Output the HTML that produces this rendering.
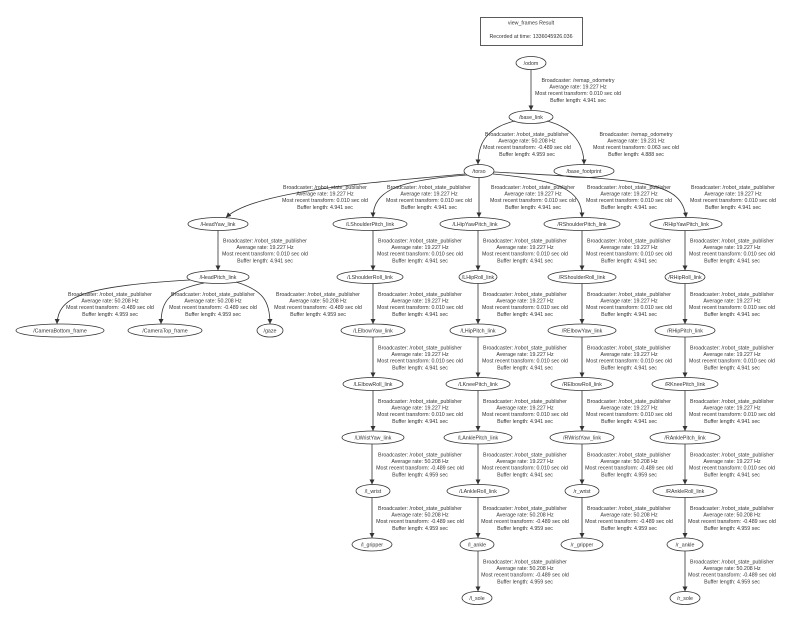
<!DOCTYPE html>
<html><head><meta charset="utf-8"><style>
html,body{margin:0;padding:0;background:#fff;width:800px;height:620px;overflow:hidden}
svg text{font-family:"Liberation Sans",sans-serif;font-size:5.3px;fill:#333;text-anchor:middle}
ellipse{fill:none;stroke:#333;stroke-width:0.8}
path.e{fill:none;stroke:#333;stroke-width:0.8;marker-end:url(#a)}
</style></head><body>
<svg width="800" height="620" viewBox="0 0 800 620" xmlns="http://www.w3.org/2000/svg">
<defs><marker id="a" markerWidth="6" markerHeight="5" refX="5" refY="2.5" orient="auto" markerUnits="userSpaceOnUse"><path d="M0,0 L5,2.5 L0,5 z" fill="#333"/></marker></defs>
<rect x="480.5" y="17.5" width="102" height="28" fill="none" stroke="#333" stroke-width="0.8"/>
<text x="531" y="24.5">view_frames Result</text>
<text x="531" y="38">Recorded at time: 1336045926.036</text>

<!-- nodes -->
<ellipse cx="531" cy="63" rx="15" ry="6.5"/><text x="531" y="65">/odom</text>
<ellipse cx="531" cy="117" rx="22" ry="6.5"/><text x="531" y="119">/base_link</text>
<ellipse cx="479" cy="171" rx="15" ry="6.5"/><text x="479" y="173">/torso</text>
<ellipse cx="584" cy="171" rx="30" ry="6.5"/><text x="584" y="173">/base_footprint</text>

<ellipse cx="218" cy="224" rx="30" ry="6.5"/><text x="218" y="226">/HeadYaw_link</text>
<ellipse cx="370" cy="224" rx="37" ry="6.5"/><text x="370" y="226">/LShoulderPitch_link</text>
<ellipse cx="475" cy="224" rx="35" ry="6.5"/><text x="475" y="226">/LHipYawPitch_link</text>
<ellipse cx="582" cy="224" rx="38" ry="6.5"/><text x="582" y="226">/RShoulderPitch_link</text>
<ellipse cx="686" cy="224" rx="36" ry="6.5"/><text x="686" y="226">/RHipYawPitch_link</text>

<ellipse cx="218" cy="277" rx="31" ry="6.5"/><text x="218" y="279">/HeadPitch_link</text>
<ellipse cx="370" cy="277" rx="33" ry="6.5"/><text x="370" y="279">/LShoulderRoll_link</text>
<ellipse cx="478" cy="277" rx="19" ry="6.5"/><text x="478" y="279">/LHipRoll_link</text>
<ellipse cx="582" cy="277" rx="34" ry="6.5"/><text x="582" y="279">/RShoulderRoll_link</text>
<ellipse cx="685" cy="277" rx="20" ry="6.5"/><text x="685" y="279">/RHipRoll_link</text>

<ellipse cx="60" cy="330.5" rx="44" ry="6.5"/><text x="60" y="332.5">/CameraBottom_frame</text>
<ellipse cx="165" cy="330.5" rx="37" ry="6.5"/><text x="165" y="332.5">/CameraTop_frame</text>
<ellipse cx="270" cy="330.5" rx="13" ry="6.5"/><text x="270" y="332.5">/gaze</text>
<ellipse cx="373" cy="330.5" rx="32" ry="6.5"/><text x="373" y="332.5">/LElbowYaw_link</text>
<ellipse cx="478" cy="330.5" rx="28" ry="6.5"/><text x="478" y="332.5">/LHipPitch_link</text>
<ellipse cx="582" cy="330.5" rx="34" ry="6.5"/><text x="582" y="332.5">/RElbowYaw_link</text>
<ellipse cx="685" cy="330.5" rx="30" ry="6.5"/><text x="685" y="332.5">/RHipPitch_link</text>

<ellipse cx="373" cy="384" rx="30" ry="6.5"/><text x="373" y="386">/LElbowRoll_link</text>
<ellipse cx="478" cy="384" rx="32" ry="6.5"/><text x="478" y="386">/LKneePitch_link</text>
<ellipse cx="582" cy="384" rx="31" ry="6.5"/><text x="582" y="386">/RElbowRoll_link</text>
<ellipse cx="685" cy="384" rx="33" ry="6.5"/><text x="685" y="386">/RKneePitch_link</text>

<ellipse cx="373" cy="437.5" rx="31" ry="6.5"/><text x="373" y="439.5">/LWristYaw_link</text>
<ellipse cx="478" cy="437.5" rx="34" ry="6.5"/><text x="478" y="439.5">/LAnklePitch_link</text>
<ellipse cx="582" cy="437.5" rx="32" ry="6.5"/><text x="582" y="439.5">/RWristYaw_link</text>
<ellipse cx="685" cy="437.5" rx="35" ry="6.5"/><text x="685" y="439.5">/RAnklePitch_link</text>

<ellipse cx="373" cy="491" rx="17" ry="6.5"/><text x="373" y="493">/l_wrist</text>
<ellipse cx="478" cy="491" rx="31" ry="6.5"/><text x="478" y="493">/LAnkleRoll_link</text>
<ellipse cx="582" cy="491" rx="17" ry="6.5"/><text x="582" y="493">/r_wrist</text>
<ellipse cx="685" cy="491" rx="32" ry="6.5"/><text x="685" y="493">/RAnkleRoll_link</text>

<ellipse cx="372" cy="544.5" rx="20" ry="6.5"/><text x="372" y="546.5">/l_gripper</text>
<ellipse cx="477" cy="544.5" rx="17" ry="6.5"/><text x="477" y="546.5">/l_ankle</text>
<ellipse cx="582" cy="544.5" rx="21" ry="6.5"/><text x="582" y="546.5">/r_gripper</text>
<ellipse cx="685" cy="544.5" rx="18" ry="6.5"/><text x="685" y="546.5">/r_ankle</text>

<ellipse cx="477" cy="598" rx="15" ry="6.5"/><text x="477" y="600">/l_sole</text>
<ellipse cx="685" cy="598" rx="15" ry="6.5"/><text x="685" y="600">/r_sole</text>

<!-- edges -->
<path class="e" d="M531,69.5 L531,110.5"/>
<path class="e" d="M515,121 C485,128 478,145 478,164.5"/>
<path class="e" d="M547,121 C574,128 584,145 584,164.5"/>
<path class="e" d="M465,174 C380,182 255,190 226,217.5"/>
<path class="e" d="M467,175 C400,180 373,190 373,217.5"/>
<path class="e" d="M479,177.5 L479,217.5"/>
<path class="e" d="M493,174 C560,180 582,190 582,217.5"/>
<path class="e" d="M494,172 C640,180 682,180 686,217.5"/>
<path class="e" d="M218,230.5 L218,270.5"/>
<path class="e" d="M373,230.5 L373,270.5"/>
<path class="e" d="M478,230.5 L478,270.5"/>
<path class="e" d="M582,230.5 L582,270.5"/>
<path class="e" d="M685,230.5 L685,270.5"/>
<path class="e" d="M190,280 C80,286 58,298 57,324"/>
<path class="e" d="M204,283 C170,290 161,300 161,324"/>
<path class="e" d="M236,282 C262,290 270,300 270,324"/>
<path class="e" d="M373,283.5 L373,324"/>
<path class="e" d="M478,283.5 L478,324"/>
<path class="e" d="M582,283.5 L582,324"/>
<path class="e" d="M685,283.5 L685,324"/>
<path class="e" d="M373,337 L373,377.5"/>
<path class="e" d="M478,337 L478,377.5"/>
<path class="e" d="M582,337 L582,377.5"/>
<path class="e" d="M685,337 L685,377.5"/>
<path class="e" d="M373,390.5 L373,431"/>
<path class="e" d="M478,390.5 L478,431"/>
<path class="e" d="M582,390.5 L582,431"/>
<path class="e" d="M685,390.5 L685,431"/>
<path class="e" d="M372,444 L372,484.5"/>
<path class="e" d="M478,444 L478,484.5"/>
<path class="e" d="M582,444 L582,484.5"/>
<path class="e" d="M685,444 L685,484.5"/>
<path class="e" d="M372,497.5 L372,538"/>
<path class="e" d="M478,497.5 L478,538"/>
<path class="e" d="M582,497.5 L582,538"/>
<path class="e" d="M685,497.5 L685,538"/>
<path class="e" d="M478,551 L478,591.5"/>
<path class="e" d="M685,551 L685,591.5"/>

<!-- labels -->
<text x="578" y="82"><tspan x="578">Broadcaster: /remap_odometry</tspan><tspan x="578" dy="6.6">Average rate: 19.227 Hz</tspan><tspan x="578" dy="6.6">Most recent transform: 0.010 sec old</tspan><tspan x="578" dy="6.6">Buffer length: 4.941 sec</tspan></text>
<text x="527" y="136"><tspan x="527">Broadcaster: /robot_state_publisher</tspan><tspan x="527" dy="6.6">Average rate: 50.208 Hz</tspan><tspan x="527" dy="6.6">Most recent transform: -0.489 sec old</tspan><tspan x="527" dy="6.6">Buffer length: 4.959 sec</tspan></text>
<text x="636" y="136"><tspan x="636">Broadcaster: /remap_odometry</tspan><tspan x="636" dy="6.6">Average rate: 19.231 Hz</tspan><tspan x="636" dy="6.6">Most recent transform: 0.063 sec old</tspan><tspan x="636" dy="6.6">Buffer length: 4.888 sec</tspan></text>

<text y="189"><tspan x="325">Broadcaster: /robot_state_publisher</tspan><tspan x="325" dy="6.6">Average rate: 19.227 Hz</tspan><tspan x="325" dy="6.6">Most recent transform: 0.010 sec old</tspan><tspan x="325" dy="6.6">Buffer length: 4.941 sec</tspan></text>
<text y="189"><tspan x="429">Broadcaster: /robot_state_publisher</tspan><tspan x="429" dy="6.6">Average rate: 19.227 Hz</tspan><tspan x="429" dy="6.6">Most recent transform: 0.010 sec old</tspan><tspan x="429" dy="6.6">Buffer length: 4.941 sec</tspan></text>
<text y="189"><tspan x="533">Broadcaster: /robot_state_publisher</tspan><tspan x="533" dy="6.6">Average rate: 19.227 Hz</tspan><tspan x="533" dy="6.6">Most recent transform: 0.010 sec old</tspan><tspan x="533" dy="6.6">Buffer length: 4.941 sec</tspan></text>
<text y="189"><tspan x="629">Broadcaster: /robot_state_publisher</tspan><tspan x="629" dy="6.6">Average rate: 19.227 Hz</tspan><tspan x="629" dy="6.6">Most recent transform: 0.010 sec old</tspan><tspan x="629" dy="6.6">Buffer length: 4.941 sec</tspan></text>
<text y="189"><tspan x="733">Broadcaster: /robot_state_publisher</tspan><tspan x="733" dy="6.6">Average rate: 19.227 Hz</tspan><tspan x="733" dy="6.6">Most recent transform: 0.010 sec old</tspan><tspan x="733" dy="6.6">Buffer length: 4.941 sec</tspan></text>

<text y="242.5"><tspan x="265">Broadcaster: /robot_state_publisher</tspan><tspan x="265" dy="6.6">Average rate: 19.227 Hz</tspan><tspan x="265" dy="6.6">Most recent transform: 0.010 sec old</tspan><tspan x="265" dy="6.6">Buffer length: 4.941 sec</tspan></text>
<text y="242.5"><tspan x="420">Broadcaster: /robot_state_publisher</tspan><tspan x="420" dy="6.6">Average rate: 19.227 Hz</tspan><tspan x="420" dy="6.6">Most recent transform: 0.010 sec old</tspan><tspan x="420" dy="6.6">Buffer length: 4.941 sec</tspan></text>
<text y="242.5"><tspan x="525">Broadcaster: /robot_state_publisher</tspan><tspan x="525" dy="6.6">Average rate: 19.227 Hz</tspan><tspan x="525" dy="6.6">Most recent transform: 0.010 sec old</tspan><tspan x="525" dy="6.6">Buffer length: 4.941 sec</tspan></text>
<text y="242.5"><tspan x="629">Broadcaster: /robot_state_publisher</tspan><tspan x="629" dy="6.6">Average rate: 19.227 Hz</tspan><tspan x="629" dy="6.6">Most recent transform: 0.010 sec old</tspan><tspan x="629" dy="6.6">Buffer length: 4.941 sec</tspan></text>
<text y="242.5"><tspan x="732">Broadcaster: /robot_state_publisher</tspan><tspan x="732" dy="6.6">Average rate: 19.227 Hz</tspan><tspan x="732" dy="6.6">Most recent transform: 0.010 sec old</tspan><tspan x="732" dy="6.6">Buffer length: 4.941 sec</tspan></text>

<text y="296"><tspan x="110">Broadcaster: /robot_state_publisher</tspan><tspan x="110" dy="6.6">Average rate: 50.208 Hz</tspan><tspan x="110" dy="6.6">Most recent transform: -0.489 sec old</tspan><tspan x="110" dy="6.6">Buffer length: 4.959 sec</tspan></text>
<text y="296"><tspan x="213">Broadcaster: /robot_state_publisher</tspan><tspan x="213" dy="6.6">Average rate: 50.208 Hz</tspan><tspan x="213" dy="6.6">Most recent transform: -0.489 sec old</tspan><tspan x="213" dy="6.6">Buffer length: 4.959 sec</tspan></text>
<text y="296"><tspan x="318">Broadcaster: /robot_state_publisher</tspan><tspan x="318" dy="6.6">Average rate: 50.208 Hz</tspan><tspan x="318" dy="6.6">Most recent transform: -0.489 sec old</tspan><tspan x="318" dy="6.6">Buffer length: 4.959 sec</tspan></text>
<text y="296"><tspan x="420">Broadcaster: /robot_state_publisher</tspan><tspan x="420" dy="6.6">Average rate: 19.227 Hz</tspan><tspan x="420" dy="6.6">Most recent transform: 0.010 sec old</tspan><tspan x="420" dy="6.6">Buffer length: 4.941 sec</tspan></text>
<text y="296"><tspan x="525">Broadcaster: /robot_state_publisher</tspan><tspan x="525" dy="6.6">Average rate: 19.227 Hz</tspan><tspan x="525" dy="6.6">Most recent transform: 0.010 sec old</tspan><tspan x="525" dy="6.6">Buffer length: 4.941 sec</tspan></text>
<text y="296"><tspan x="629">Broadcaster: /robot_state_publisher</tspan><tspan x="629" dy="6.6">Average rate: 19.227 Hz</tspan><tspan x="629" dy="6.6">Most recent transform: 0.010 sec old</tspan><tspan x="629" dy="6.6">Buffer length: 4.941 sec</tspan></text>
<text y="296"><tspan x="732">Broadcaster: /robot_state_publisher</tspan><tspan x="732" dy="6.6">Average rate: 19.227 Hz</tspan><tspan x="732" dy="6.6">Most recent transform: 0.010 sec old</tspan><tspan x="732" dy="6.6">Buffer length: 4.941 sec</tspan></text>

<text y="349.5"><tspan x="420">Broadcaster: /robot_state_publisher</tspan><tspan x="420" dy="6.6">Average rate: 19.227 Hz</tspan><tspan x="420" dy="6.6">Most recent transform: 0.010 sec old</tspan><tspan x="420" dy="6.6">Buffer length: 4.941 sec</tspan></text>
<text y="349.5"><tspan x="525">Broadcaster: /robot_state_publisher</tspan><tspan x="525" dy="6.6">Average rate: 19.227 Hz</tspan><tspan x="525" dy="6.6">Most recent transform: 0.010 sec old</tspan><tspan x="525" dy="6.6">Buffer length: 4.941 sec</tspan></text>
<text y="349.5"><tspan x="629">Broadcaster: /robot_state_publisher</tspan><tspan x="629" dy="6.6">Average rate: 19.227 Hz</tspan><tspan x="629" dy="6.6">Most recent transform: 0.010 sec old</tspan><tspan x="629" dy="6.6">Buffer length: 4.941 sec</tspan></text>
<text y="349.5"><tspan x="732">Broadcaster: /robot_state_publisher</tspan><tspan x="732" dy="6.6">Average rate: 19.227 Hz</tspan><tspan x="732" dy="6.6">Most recent transform: 0.010 sec old</tspan><tspan x="732" dy="6.6">Buffer length: 4.941 sec</tspan></text>

<text y="403"><tspan x="420">Broadcaster: /robot_state_publisher</tspan><tspan x="420" dy="6.6">Average rate: 19.227 Hz</tspan><tspan x="420" dy="6.6">Most recent transform: 0.010 sec old</tspan><tspan x="420" dy="6.6">Buffer length: 4.941 sec</tspan></text>
<text y="403"><tspan x="525">Broadcaster: /robot_state_publisher</tspan><tspan x="525" dy="6.6">Average rate: 19.227 Hz</tspan><tspan x="525" dy="6.6">Most recent transform: 0.010 sec old</tspan><tspan x="525" dy="6.6">Buffer length: 4.941 sec</tspan></text>
<text y="403"><tspan x="629">Broadcaster: /robot_state_publisher</tspan><tspan x="629" dy="6.6">Average rate: 19.227 Hz</tspan><tspan x="629" dy="6.6">Most recent transform: 0.010 sec old</tspan><tspan x="629" dy="6.6">Buffer length: 4.941 sec</tspan></text>
<text y="403"><tspan x="732">Broadcaster: /robot_state_publisher</tspan><tspan x="732" dy="6.6">Average rate: 19.227 Hz</tspan><tspan x="732" dy="6.6">Most recent transform: 0.010 sec old</tspan><tspan x="732" dy="6.6">Buffer length: 4.941 sec</tspan></text>

<text y="456.5"><tspan x="420">Broadcaster: /robot_state_publisher</tspan><tspan x="420" dy="6.6">Average rate: 50.208 Hz</tspan><tspan x="420" dy="6.6">Most recent transform: -0.489 sec old</tspan><tspan x="420" dy="6.6">Buffer length: 4.959 sec</tspan></text>
<text y="456.5"><tspan x="525">Broadcaster: /robot_state_publisher</tspan><tspan x="525" dy="6.6">Average rate: 19.227 Hz</tspan><tspan x="525" dy="6.6">Most recent transform: 0.010 sec old</tspan><tspan x="525" dy="6.6">Buffer length: 4.941 sec</tspan></text>
<text y="456.5"><tspan x="629">Broadcaster: /robot_state_publisher</tspan><tspan x="629" dy="6.6">Average rate: 50.208 Hz</tspan><tspan x="629" dy="6.6">Most recent transform: -0.489 sec old</tspan><tspan x="629" dy="6.6">Buffer length: 4.959 sec</tspan></text>
<text y="456.5"><tspan x="732">Broadcaster: /robot_state_publisher</tspan><tspan x="732" dy="6.6">Average rate: 19.227 Hz</tspan><tspan x="732" dy="6.6">Most recent transform: 0.010 sec old</tspan><tspan x="732" dy="6.6">Buffer length: 4.941 sec</tspan></text>

<text y="510"><tspan x="420">Broadcaster: /robot_state_publisher</tspan><tspan x="420" dy="6.6">Average rate: 50.208 Hz</tspan><tspan x="420" dy="6.6">Most recent transform: -0.489 sec old</tspan><tspan x="420" dy="6.6">Buffer length: 4.959 sec</tspan></text>
<text y="510"><tspan x="525">Broadcaster: /robot_state_publisher</tspan><tspan x="525" dy="6.6">Average rate: 50.208 Hz</tspan><tspan x="525" dy="6.6">Most recent transform: -0.489 sec old</tspan><tspan x="525" dy="6.6">Buffer length: 4.959 sec</tspan></text>
<text y="510"><tspan x="629">Broadcaster: /robot_state_publisher</tspan><tspan x="629" dy="6.6">Average rate: 50.208 Hz</tspan><tspan x="629" dy="6.6">Most recent transform: -0.489 sec old</tspan><tspan x="629" dy="6.6">Buffer length: 4.959 sec</tspan></text>
<text y="510"><tspan x="732">Broadcaster: /robot_state_publisher</tspan><tspan x="732" dy="6.6">Average rate: 50.208 Hz</tspan><tspan x="732" dy="6.6">Most recent transform: -0.489 sec old</tspan><tspan x="732" dy="6.6">Buffer length: 4.959 sec</tspan></text>

<text y="563.5"><tspan x="525">Broadcaster: /robot_state_publisher</tspan><tspan x="525" dy="6.6">Average rate: 50.208 Hz</tspan><tspan x="525" dy="6.6">Most recent transform: -0.489 sec old</tspan><tspan x="525" dy="6.6">Buffer length: 4.959 sec</tspan></text>
<text y="563.5"><tspan x="732">Broadcaster: /robot_state_publisher</tspan><tspan x="732" dy="6.6">Average rate: 50.208 Hz</tspan><tspan x="732" dy="6.6">Most recent transform: -0.489 sec old</tspan><tspan x="732" dy="6.6">Buffer length: 4.959 sec</tspan></text>
</svg>
</body></html>
